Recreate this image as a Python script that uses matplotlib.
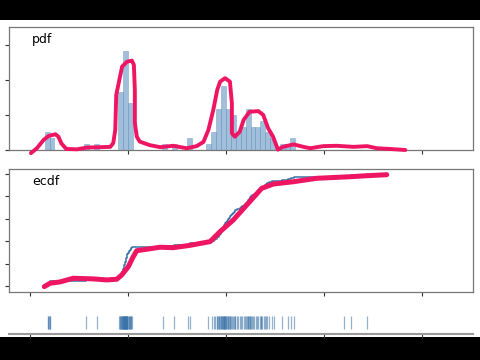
import numpy as np
import matplotlib
matplotlib.use('Agg')
import matplotlib.pyplot as plt
from matplotlib.patches import Rectangle

samples = [0.18, 0.185, 0.19, 0.202, 0.206,
           0.57, 0.68,
           0.91, 0.915, 0.92, 0.925, 0.93, 0.935, 0.94, 0.942, 0.945, 0.948,
           0.951, 0.955, 0.958, 0.96, 0.962, 0.965, 0.968, 0.97, 0.972, 0.975,
           0.978, 0.98, 0.982, 0.985, 0.988, 0.99, 0.995,
           1.005, 1.01, 1.015, 1.02, 1.025, 1.03, 1.035, 1.045,
           1.36, 1.47, 1.61, 1.63,
           1.82, 1.86, 1.875, 1.89,
           1.905, 1.91, 1.92, 1.925, 1.93, 1.94, 1.945,
           1.952, 1.955, 1.96, 1.965, 1.97, 1.975, 1.978, 1.982, 1.988, 1.992, 1.996,
           2.005, 2.01, 2.02, 2.025, 2.03, 2.04, 2.045,
           2.055, 2.06, 2.07, 2.08, 2.09, 2.095,
           2.11, 2.125, 2.14,
           2.155, 2.165, 2.18, 2.19,
           2.205, 2.21, 2.22, 2.225, 2.23, 2.24, 2.245,
           2.255, 2.27, 2.28, 2.29,
           2.305, 2.32, 2.33, 2.345,
           2.355, 2.36, 2.37, 2.385, 2.395,
           2.405, 2.42, 2.44,
           2.47, 2.49,
           2.57, 2.63, 2.66, 2.69,
           3.20, 3.28, 3.44]

# hand drawn pink strokes (data units)
pdf_sketch_x = [0.01, 0.07, 0.14, 0.19, 0.26, 0.29, 0.32, 0.37, 0.48, 0.58, 0.71, 0.82,
                0.85, 0.87, 0.88, 0.94, 0.99, 1.04, 1.06, 1.07, 1.07, 1.09, 1.12, 1.22,
                1.33, 1.46, 1.60, 1.70, 1.77, 1.82, 1.87, 1.91, 1.94, 1.99, 2.04, 2.06,
                2.06, 2.09, 2.14, 2.18, 2.24, 2.33, 2.38, 2.43, 2.48, 2.53, 2.58, 2.69,
                2.79, 2.86, 2.99, 3.13, 3.30, 3.44, 3.54, 3.67, 3.83]
pdf_sketch_y = [-0.09, 0.05, 0.29, 0.40, 0.45, 0.38, 0.19, 0.03, 0.02, 0.07, 0.08, 0.09,
                0.20, 0.57, 1.57, 2.38, 2.52, 2.55, 2.43, 1.71, 0.77, 0.38, 0.24, 0.14,
                0.08, 0.12, 0.05, 0.11, 0.23, 0.57, 1.14, 1.71, 1.95, 2.05, 1.95, 1.33,
                0.48, 0.38, 0.52, 0.86, 1.09, 1.11, 1.00, 0.62, 0.38, 0.01, 0.09, 0.16,
                0.09, 0.05, 0.11, 0.12, 0.09, 0.11, 0.05, 0.03, 0.00]

cdf_sketch_x = [0.146, 0.204, 0.306, 0.442, 0.646, 0.783, 0.885, 0.936, 1.003, 1.054,
                1.089, 1.191, 1.327, 1.462, 1.633, 1.837, 1.939, 2.074, 2.211, 2.364,
                2.483, 2.687, 2.926, 3.265, 3.436, 3.640]
cdf_sketch_y = [-0.006, 0.024, 0.036, 0.069, 0.063, 0.054, 0.060, 0.098, 0.172, 0.262,
                0.315, 0.328, 0.346, 0.342, 0.363, 0.396, 0.485, 0.589, 0.723, 0.872,
                0.911, 0.931, 0.962, 0.976, 0.985, 0.994]

pink = '#ee1562'
blue = '#3a72a8'
xlim = (-0.214, 4.52)

fig = plt.figure(figsize=(4.8, 3.6), dpi=100, facecolor='black')
fig.add_artist(Rectangle((0, 23 / 360), 1, 317 / 360, transform=fig.transFigure,
                         facecolor='white', edgecolor='none', zorder=-1))

ax1 = fig.add_axes([9 / 480, 210 / 360, 464 / 480, 123 / 360])
ax2 = fig.add_axes([9 / 480, 68 / 360, 464 / 480, 123 / 360])
ax3 = fig.add_axes([9 / 480, 26 / 360, 464 / 480, 34 / 360])

data = np.array(samples)

# pdf panel
bins = np.arange(0.15, 2.76, 0.05)
ax1.hist(data, bins=bins, density=False, weights=np.full(len(data), 1 / (len(data) * 0.05)),
         color='#6f9cc8', alpha=0.65, edgecolor='#5a88b8', linewidth=0.4)
ax1.plot(pdf_sketch_x, pdf_sketch_y, color=pink, lw=2.8, solid_capstyle='round',
         solid_joinstyle='round', clip_on=False, zorder=5)
ax1.set_ylim(0, 3.51)
ax1.set_yticks([0, 1, 2, 3])
ax1.text(0.05, 0.87, 'pdf', transform=ax1.transAxes, fontsize=9)

# ecdf panel
xs = np.sort(data)
ys = np.arange(1, len(xs) + 1) / len(xs)
ax2.step(xs, ys, where='post', color=blue, lw=1.1)
ax2.plot(cdf_sketch_x, cdf_sketch_y, color=pink, lw=3.6, solid_capstyle='round',
         solid_joinstyle='round', zorder=5)
ax2.set_ylim(-0.054, 1.045)
ax2.set_yticks([0, 0.2, 0.4, 0.6, 0.8, 1.0])
ax2.text(0.05, 0.87, 'ecdf', transform=ax2.transAxes, fontsize=9)

# rug panel
ax3.vlines(data, 0.15, 0.53, transform=ax3.get_xaxis_transform(),
           color=blue, alpha=0.55, lw=0.9)
ax3.set_ylim(0, 1)
ax3.set_yticks([])
for s in ['top', 'left', 'right']:
    ax3.spines[s].set_visible(False)
ax3.spines['bottom'].set_color('#9a9a9a')
ax3.spines['bottom'].set_linewidth(1.5)

for ax in (ax1, ax2, ax3):
    ax.set_xlim(*xlim)
    ax.set_xticks([0, 1, 2, 3, 4])
    ax.tick_params(labelbottom=False, labelleft=False, length=3, width=0.8,
                   color='#333333')
for ax in (ax1, ax2):
    for s in ax.spines.values():
        s.set_color('#777777')
        s.set_linewidth(0.9)

fig.savefig('out.png', dpi=100, facecolor=fig.get_facecolor())
